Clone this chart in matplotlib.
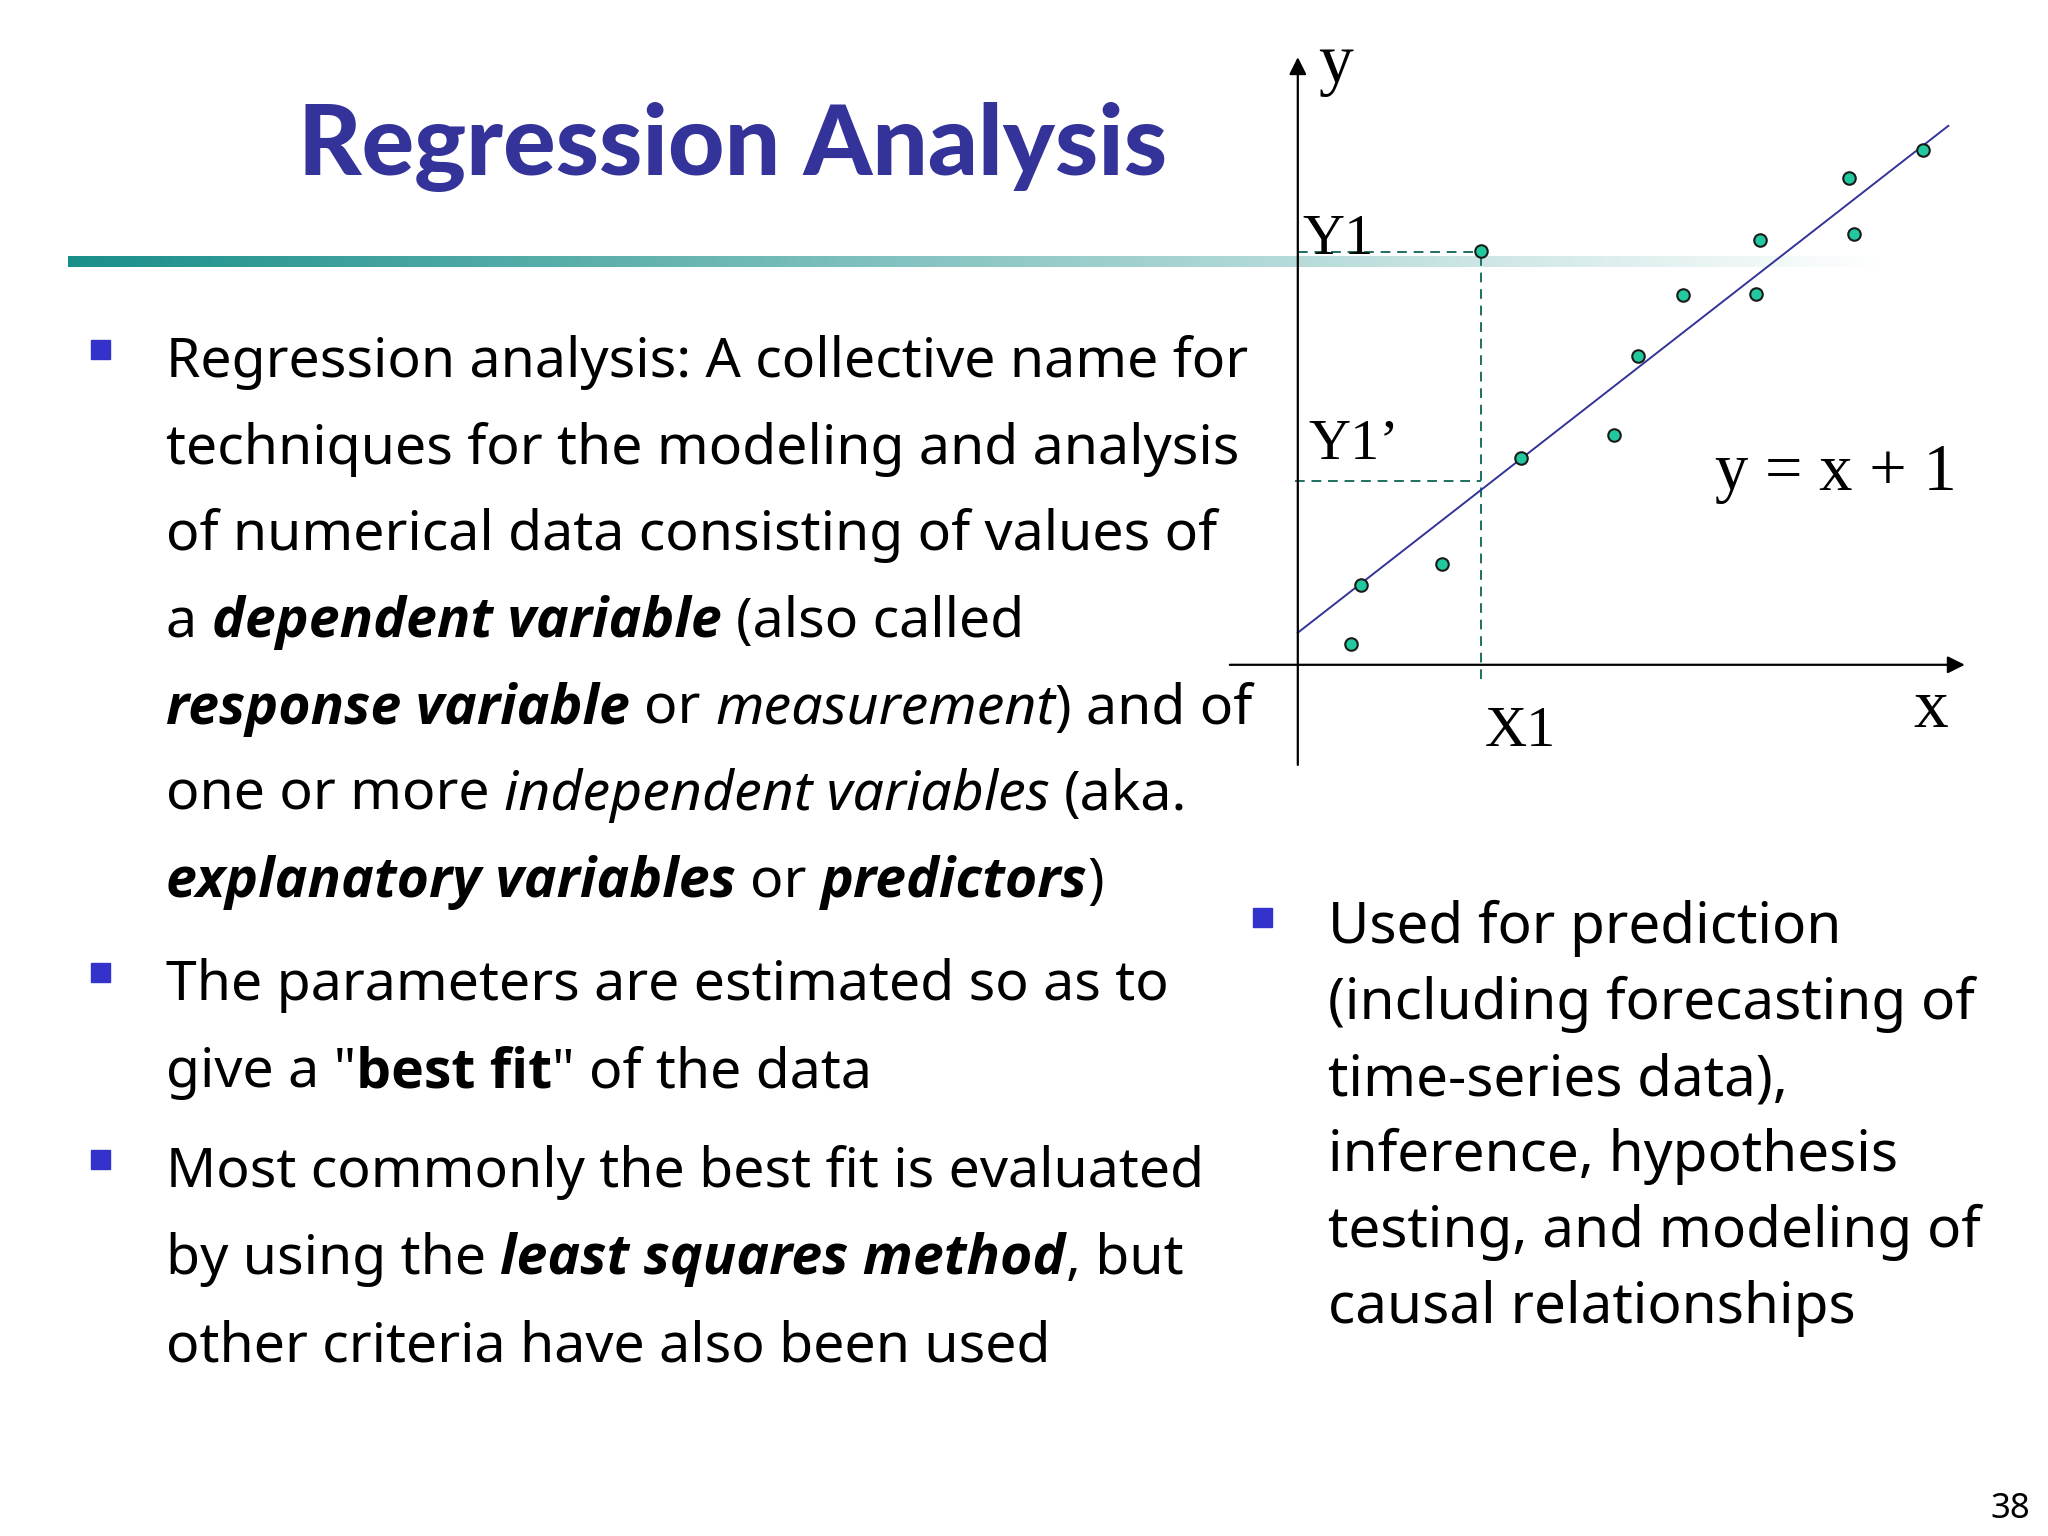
import numpy as np
import matplotlib
matplotlib.use("Agg")
import matplotlib.pyplot as plt
from matplotlib.patches import Rectangle
from matplotlib import font_manager as fm

# ---- chart data ----
pts_x = [1.29, 1.53, 3.51, 4.45, 5.41, 7.68, 8.26, 9.36, 11.11, 11.23, 13.38, 13.49, 15.17]
pts_y = [0.64, 2.48, 3.15, 12.88, 6.44, 7.15, 9.62, 11.52, 11.55, 13.22, 15.16, 13.41, 16.04]
fit_x = [0.0, 15.79]
fit_y = [1.0, 16.79]
x1_val = 4.45
y1_val = 12.85
y1p_val = 5.74
x_axis_range = [-1.65, 16.19]
y_axis_range = [-3.12, 18.93]

title = "Regression Analysis"

# text lines: (text, style) segments; n normal, b bold, i italic, bi bold italic
left_bullets = [
    [[("Regression analysis: A collective name for", "n")],
     [("techniques for the modeling and analysis", "n")],
     [("of numerical data consisting of values of", "n")],
     [("a ", "n"), ("dependent variable", "bi"), (" (also called", "n")],
     [("response variable", "bi"), (" or ", "n"), ("measurement", "i"), (") and of", "n")],
     [("one or more ", "n"), ("independent variables", "i"), (" (aka.", "n")],
     [("explanatory variables", "bi"), (" or ", "n"), ("predictors", "bi"), (")", "n")]],
    [[("The parameters are estimated so as to", "n")],
     [("give a \"", "n"), ("best fit", "b"), ("\" of the data", "n")]],
    [[("Most commonly the best fit is evaluated", "n")],
     [("by using the ", "n"), ("least squares method", "bi"), (", but", "n")],
     [("other criteria have also been used", "n")]],
]
left_baselines = [[377, 464, 550, 637, 724, 810, 897], [1000, 1087], [1187, 1274, 1362]]

right_lines = ["Used for prediction", "(including forecasting of", "time-series data),",
               "inference, hypothesis", "testing, and modeling of", "causal relationships"]
right_baselines = [943, 1019, 1095, 1171, 1247, 1323]

page_no = "38"

W, H = 2048, 1536
fig = plt.figure(figsize=(W / 100, H / 100), dpi=100)
bg = fig.add_axes([0, 0, 1, 1])
bg.set_xlim(0, W)
bg.set_ylim(H, 0)
bg.axis("off")
renderer = fig.canvas.get_renderer()

STYLES = {"n": ("normal", "normal"), "b": ("bold", "normal"),
          "i": ("normal", "italic"), "bi": ("bold", "italic")}


def pick_font(weight, style):
    # use the first family that really has this face (bold file for bold, etc.)
    for fam in ["Noto Sans", "Open Sans", "DejaVu Sans"]:
        try:
            path = fm.findfont(fm.FontProperties(family=fam, weight=weight, style=style),
                               fallback_to_default=False)
        except ValueError:
            continue
        name = path.lower()
        ok = True
        if weight == "bold" and "bold" not in name:
            ok = False
        if style == "italic" and "italic" not in name and "oblique" not in name:
            ok = False
        if ok:
            return fm.FontProperties(fname=path)
    return fm.FontProperties(family="DejaVu Sans", weight=weight, style=style)


FONTS = {k: pick_font(*v) for k, v in STYLES.items()}


def text_width(s, size, st="n"):
    fp = FONTS[st].copy()
    fp.set_size(size)
    t = bg.text(0, 0, s, fontproperties=fp)
    w = t.get_window_extent(renderer).width
    t.remove()
    return w


def fit_size(s, target):
    return 40 * target / text_width(s, 40)


def draw_line(x, y, segs, size):
    space = text_width("a a", size) - text_width("aa", size)
    for s, st in segs:
        core = s.strip(" ")
        lead = len(s) - len(s.lstrip(" "))
        trail = len(s) - len(s.rstrip(" "))
        x += lead * space
        if core:
            fp = FONTS[st].copy()
            fp.set_size(size)
            t = bg.text(x, y, core, fontproperties=fp, va="baseline", ha="left", color="black")
            x += t.get_window_extent(renderer).width
        x += trail * space


# gradient rule under the title
n = 600
grad = np.ones((1, n, 4))
f = np.linspace(0, 1, n)
grad[0, :, 0] = (26 + f * (255 - 26)) / 255
grad[0, :, 1] = (143 + f * (255 - 143)) / 255
grad[0, :, 2] = (138 + f * (255 - 138)) / 255
bg.imshow(grad, extent=[68, 1880, 267, 256], aspect="auto", zorder=1, interpolation="bilinear")
bg.set_xlim(0, W)
bg.set_ylim(H, 0)

# title
tfam = ["Lato", "DejaVu Sans"]
t = bg.text(0, 0, title, fontsize=40, fontweight="black", family=tfam)
tsize = min(40 * 868 / t.get_window_extent(renderer).width, 75)
t.remove()
bg.text(298, 175, title, fontsize=tsize, fontweight="black", family=tfam,
        color="#333399", va="baseline", ha="left")

# left column
lsize = fit_size("Regression analysis: A collective name for", 1081)
for para, bases in zip(left_bullets, left_baselines):
    bg.add_patch(Rectangle((91, bases[0] - 37), 19, 19, color="#3333cc", zorder=3))
    for segs, yb in zip(para, bases):
        draw_line(166, yb, segs, lsize)

# right column
rsize = fit_size("Used for prediction", 513)
bg.add_patch(Rectangle((1253, right_baselines[0] - 35), 19, 19, color="#3333cc", zorder=3))
for s, yb in zip(right_lines, right_baselines):
    draw_line(1328, yb, [(s, "n")], rsize)

fp_pg = FONTS["n"].copy()
fp_pg.set_size(25)
bg.text(2030, 1518, page_no, fontproperties=fp_pg, ha="right", va="baseline")

# ---- the chart ----
ax = fig.add_axes([1200 / W, (H - 800) / H, 800 / W, 760 / H])
ax.set_xlim(-2.374, 17.044)
ax.set_ylim(-4.212, 19.464)
ax.axis("off")
ax.patch.set_alpha(0)

arrow = dict(arrowstyle="-|>", lw=1.6, color="black", mutation_scale=26, shrinkA=0, shrinkB=0)
ax.annotate("", xy=(x_axis_range[1], 0), xytext=(x_axis_range[0], 0), arrowprops=arrow)
ax.annotate("", xy=(0, y_axis_range[1]), xytext=(0, y_axis_range[0]), arrowprops=arrow)

dash = dict(color="#1f6f60", lw=1.4, dashes=(5, 3.5))
ax.plot([0, x1_val], [y1_val, y1_val], **dash)
ax.plot([x1_val, x1_val], [-0.43, y1_val], **dash)
ax.plot([-0.08, x1_val], [y1p_val, y1p_val], **dash)

ax.plot(fit_x, fit_y, color="#333399", lw=1.4)
ax.plot(pts_x, pts_y, "o", ms=9, mfc="#22c99f", mec="#1a1a1a", mew=1.5, zorder=5)

SERIF = "Liberation Serif"
ax.text(0.10, 12.81, "Y1", fontsize=42, family=SERIF, va="baseline")
ax.text(0.265, 6.41, "Y1\u2019", fontsize=42, family=SERIF, va="baseline")
ax.text(4.54, -2.52, "X1", fontsize=42, family=SERIF, va="baseline")
ax.text(14.95, -1.94, "x", fontsize=50, family=SERIF, va="baseline")
ax.text(0.50, 18.17, "y", fontsize=50, family=SERIF, va="baseline")
ax.text(10.12, 5.45, "y = x + 1", fontsize=48, family=SERIF, va="baseline")

fig.savefig("out.png", dpi=100)
